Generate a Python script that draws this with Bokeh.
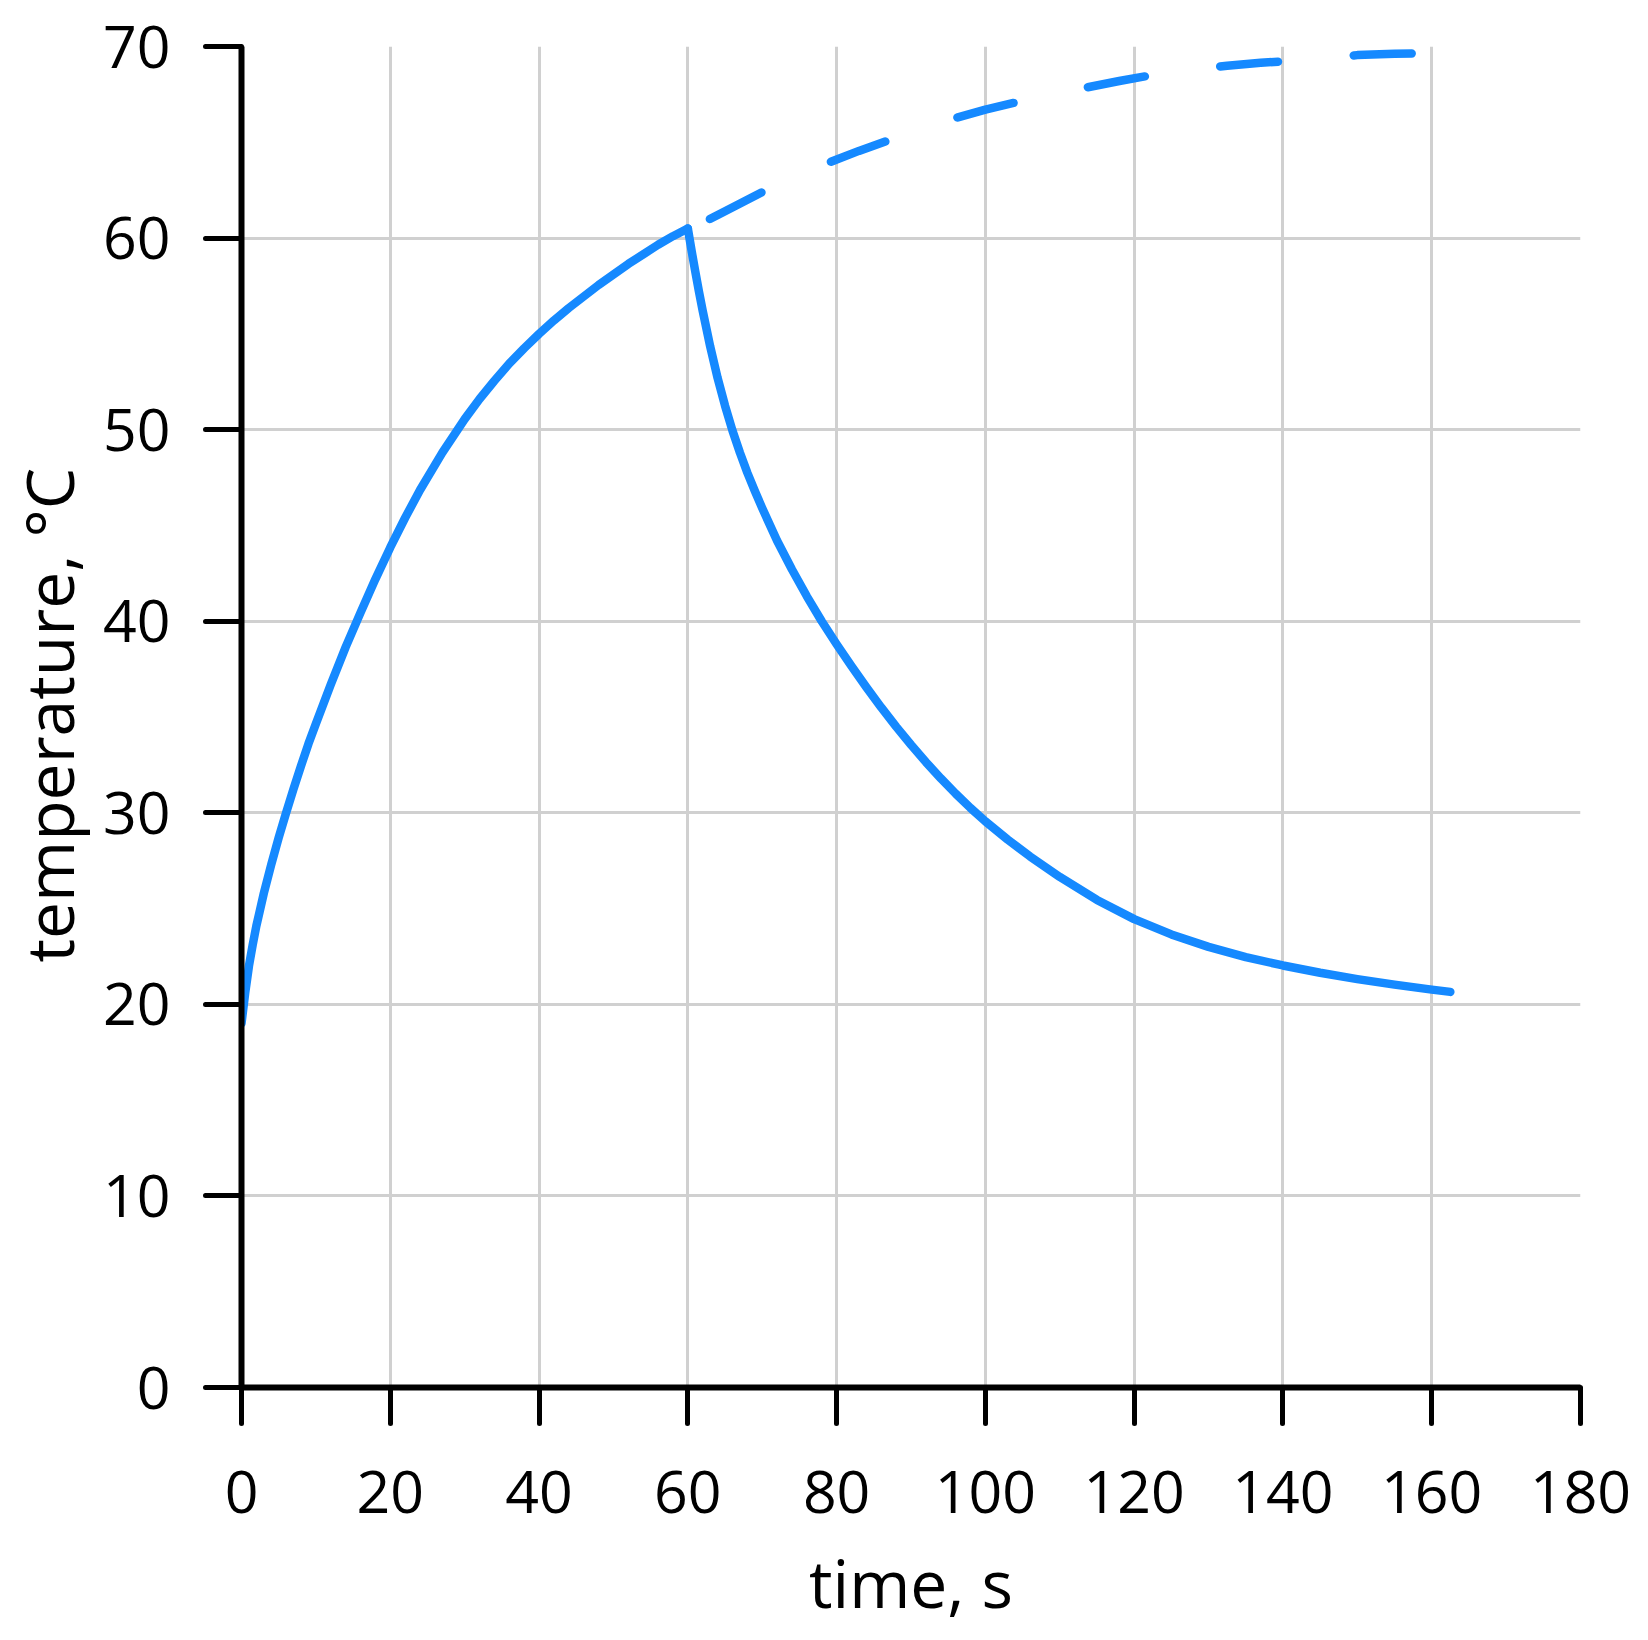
from bokeh.plotting import figure
from bokeh.models import FixedTicker, Range1d
from bokeh.layouts import row
from bokeh.core.properties import value
from bokeh.embed import file_html
from bokeh.resources import INLINE
import math

# measured heating curve (time s, temperature °C)
heat_t = [0, 0.5, 1, 1.5, 2, 3, 4, 5, 6, 7, 8, 9, 10, 12, 14, 16, 18, 20, 22, 24, 27,
          30, 32, 34, 36, 38, 40, 42, 44, 46, 48, 50, 52, 54, 56, 58, 60]
heat_T = [19.0, 20.6, 22.0, 23.1, 24.1, 25.8, 27.3, 28.7, 30.0, 31.25, 32.45, 33.6, 34.65,
          36.7, 38.65, 40.45, 42.2, 43.85, 45.4, 46.85, 48.8, 50.55, 51.6, 52.55, 53.45,
          54.25, 55.0, 55.7, 56.35, 56.95, 57.55, 58.1, 58.65, 59.15, 59.65, 60.1, 60.5]

# measured cooling curve
cool_t = [60, 60.5, 61, 61.5, 62, 63, 64, 65, 66, 67, 68, 69, 70, 72, 74, 76, 78, 80, 82, 84,
          86, 88, 90, 92, 94, 96, 98, 100, 103, 106, 110, 115, 120, 125, 130, 135, 140, 145,
          150, 155, 160, 162.5]
cool_T = [60.5, 59.35, 58.25, 57.2, 56.2, 54.35, 52.7, 51.25, 49.95, 48.8, 47.75, 46.8, 45.9,
          44.2, 42.7, 41.3, 40.0, 38.8, 37.65, 36.55, 35.5, 34.5, 33.55, 32.65, 31.8, 31.0,
          30.25, 29.55, 28.6, 27.72, 26.65, 25.45, 24.45, 23.65, 23.0, 22.47, 22.03, 21.65,
          21.32, 21.03, 20.77, 20.65]

# projected (continued heating) curve, dashed
proj_t = [60, 62.5, 65, 70, 75, 79, 83, 87, 92, 96.3, 100, 104.3, 109, 114.1, 118, 122.3,
          127, 132.5, 137, 141, 145, 150, 155, 160]
proj_T = [60.5, 60.9, 61.4, 62.4, 63.25, 63.95, 64.55, 65.1, 65.75, 66.3, 66.7, 67.1, 67.5,
          67.9, 68.2, 68.5, 68.75, 69.0, 69.15, 69.25, 69.4, 69.55, 69.62, 69.65]

x_ticks = [0, 20, 40, 60, 80, 100, 120, 140, 160, 180]
y_ticks = [0, 10, 20, 30, 40, 50, 60, 70]

x_title = "time, s"
y_title = "temperature, °C"

FONT = "Open Sans"
BLUE = "#1589ff"
H = 1632
LEFT_W = 100
TOP, BOTTOM = 46, 245

y_range = Range1d(0, 70)

p = figure(width=1632 - LEFT_W, height=H, output_backend="svg", toolbar_location=None,
           x_range=Range1d(0, 180), y_range=y_range,
           min_border_left=238 - LEFT_W, min_border_right=52, min_border_top=TOP,
           min_border_bottom=BOTTOM)

# narrow strip holding the vertical axis title (its frame is aligned with the main frame)
t = figure(width=LEFT_W, height=H, output_backend="svg", toolbar_location=None,
           x_range=Range1d(0, LEFT_W), y_range=y_range,
           x_axis_type=None, y_axis_type=None, min_border=0)
t.outline_line_color = None
t.xgrid.visible = False
t.ygrid.visible = False
frame_h = H - TOP - BOTTOM
title_start = (H - BOTTOM - 962) / frame_h * 70   # where the title text begins
t.text(x=[47], y=[title_start], text=[y_title], angle=math.pi / 2,
       text_align="left", text_baseline="middle",
       text_font=value(FONT), text_font_size=value("66px"), text_color="black")

p.outline_line_color = None
p.background_fill_color = "white"
p.border_fill_color = "white"

p.xgrid.ticker = FixedTicker(ticks=x_ticks)
p.ygrid.ticker = FixedTicker(ticks=y_ticks)
for g in (p.xgrid[0], p.ygrid[0]):
    g.grid_line_color = "#d0d0d0"
    g.grid_line_width = 3

p.line(heat_t, heat_T, line_color=BLUE, line_width=8.5, line_cap="round", line_join="round")
p.line(cool_t, cool_T, line_color=BLUE, line_width=8.5, line_cap="round", line_join="round")
p.line(proj_t, proj_T, line_color=BLUE, line_width=8.5, line_cap="round", line_join="round",
       line_dash="58 76", line_dash_offset=110)

p.xaxis.ticker = FixedTicker(ticks=x_ticks)
p.yaxis.ticker = FixedTicker(ticks=y_ticks)

for ax in (p.xaxis[0], p.yaxis[0]):
    ax.axis_line_color = "black"
    ax.axis_line_width = 6
    ax.major_tick_line_color = "black"
    ax.major_tick_line_width = 5
    ax.major_tick_line_cap = "round"
    ax.major_tick_in = 0
    ax.major_tick_out = 36
    ax.minor_tick_line_color = None
    ax.major_label_text_font = FONT
    ax.major_label_text_font_size = "59px"
    ax.major_label_text_color = "black"
    ax.axis_label_text_font = FONT
    ax.axis_label_text_font_size = "66px"
    ax.axis_label_text_font_style = "normal"
    ax.axis_label_text_color = "black"

p.xaxis.axis_label = x_title
p.xaxis.major_label_standoff = 47
p.yaxis.major_label_standoff = 35
p.xaxis.axis_label_standoff = 21

layout = row(t, p, spacing=0)
open("out.html", "w").write(file_html(layout, INLINE))
